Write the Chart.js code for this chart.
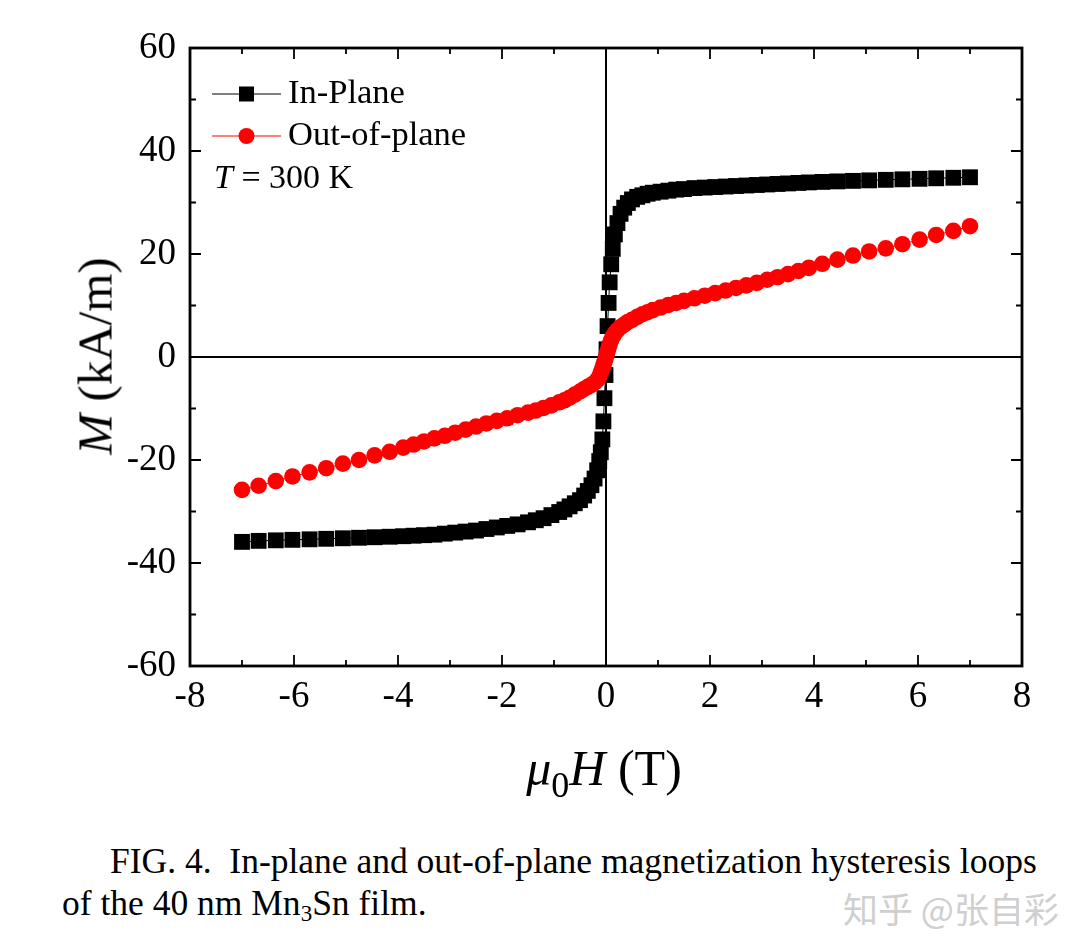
<!DOCTYPE html>
<html>
<head>
<meta charset="utf-8">
<script src="https://cdn.jsdelivr.net/npm/chart.js@4.4.0/dist/chart.umd.min.js"></script>
<style>
body { margin: 0; background: #fff; }
#wrap { position: relative; width: 1085px; height: 946px; font-family: 'Liberation Serif', 'Times New Roman', serif; color: #000; }
#chart { position: absolute; left: 0; top: 0; }
#ytitle { position: absolute; left: 95px; top: 356px; transform: translate(-50%, -50%) rotate(-90deg); font-size: 49px; white-space: nowrap; }
#xtitle { position: absolute; left: 604px; top: 772px; transform: translate(-50%, -50%); font-size: 50px; white-space: nowrap; }
#xtitle sub { font-size: 36px; vertical-align: -12px; }
.cap { position: absolute; font-size: 35.5px; white-space: nowrap; }
.cap sub { font-size: 23px; vertical-align: -6px; }
#mark { position: absolute; left: 843px; top: 882px; font-family: 'Noto Sans CJK SC', sans-serif; font-size: 35px; color: #cfcfcf; white-space: nowrap; }
</style>
</head>
<body>
<div id="wrap">
  <canvas id="chart" width="1085" height="800"></canvas>
  <div id="ytitle"><i>M</i> (kA/m)</div>
  <div id="xtitle"><i>μ</i><sub>0</sub><i>H</i> (T)</div>
  <div class="cap" style="left:110px; top:840px;">FIG. 4.&nbsp; In-plane and out-of-plane magnetization hysteresis loops</div>
  <div class="cap" style="left:62px; top:882px;">of the 40 nm Mn<sub>3</sub>Sn film.</div>
  <div id="mark">知乎 @张自彩</div>
</div>
<script>
// Field values (T), shared by both loops
const fieldT = [
    -7.0, -6.68, -6.35, -6.03, -5.70, -5.38, -5.06, -4.75, -4.45, -4.16,
    -3.9, -3.7, -3.5, -3.3, -3.1, -2.9, -2.7, -2.5, -2.3, -2.1,
    -1.9, -1.7, -1.5, -1.35, -1.2, -1.05, -0.9, -0.8, -0.7, -0.6,
    -0.5, -0.42, -0.35, -0.28, -0.22, -0.17, -0.13, -0.1, -0.07, -0.05,
    -0.03, -0.01, 0.01, 0.03, 0.05, 0.07, 0.1, 0.13, 0.17, 0.22,
    0.28, 0.35, 0.42, 0.5, 0.6, 0.7, 0.8, 0.9, 1.05, 1.2,
    1.35, 1.5, 1.7, 1.9, 2.1, 2.3, 2.5, 2.7, 2.9, 3.1,
    3.3, 3.5, 3.7, 3.9, 4.16, 4.45, 4.75, 5.06, 5.38, 5.70,
    6.03, 6.35, 6.68, 7.0
];

// In-plane magnetization (kA/m)
const inPlaneM = [
    -35.9, -35.7, -35.6, -35.5, -35.4, -35.3, -35.2, -35.1, -35.0, -34.9,
    -34.8, -34.7, -34.6, -34.5, -34.3, -34.1, -33.9, -33.7, -33.4, -33.1,
    -32.8, -32.5, -32.1, -31.7, -31.3, -30.7, -30.1, -29.6, -29.0, -28.4,
    -27.8, -26.9, -26.0, -24.9, -23.6, -22.0, -20.2, -18.5, -16.0, -12.5,
    -8.0, -3.5, 1.5, 6.0, 10.5, 14.5, 18.0, 21.0, 23.8, 26.0,
    27.8, 29.0, 29.9, 30.6, 31.1, 31.4, 31.7, 31.9, 32.1, 32.3,
    32.5, 32.6, 32.8, 32.9, 33.0, 33.1, 33.2, 33.3, 33.4, 33.5,
    33.6, 33.7, 33.8, 33.9, 34.0, 34.1, 34.2, 34.3, 34.4, 34.5,
    34.6, 34.7, 34.8, 34.9
];

// Out-of-plane magnetization (kA/m)
const outOfPlaneM = [
    -25.8, -25.0, -24.1, -23.2, -22.4, -21.6, -20.7, -20.0, -19.1, -18.4,
    -17.6, -17.0, -16.4, -15.8, -15.3, -14.7, -14.1, -13.5, -12.9, -12.4,
    -11.9, -11.3, -10.8, -10.4, -9.9, -9.4, -8.8, -8.4, -7.9, -7.3,
    -6.7, -6.2, -5.8, -5.4, -5.0, -4.5, -3.8, -3.0, -2.2, -1.6,
    -1.0, -0.3, 0.4, 1.1, 1.8, 2.5, 3.3, 4.0, 4.6, 5.2,
    5.8, 6.3, 6.8, 7.2, 7.8, 8.3, 8.7, 9.1, 9.6, 10.1,
    10.5, 10.9, 11.4, 11.9, 12.4, 12.9, 13.4, 13.9, 14.4, 15.0,
    15.5, 16.1, 16.7, 17.3, 18.1, 18.9, 19.7, 20.5, 21.1, 21.9,
    22.8, 23.7, 24.5, 25.4
];

// Axis ranges and tick steps
const xRange = [-8, 8];
const yRange = [-60, 60];
const xMajor = 2, xMinor = 1;
const yMajor = 20, yMinor = 10;

const serif = "'Liberation Serif', 'Times New Roman', serif";
Chart.defaults.font.family = serif;
Chart.defaults.color = '#000';

function toPoints(ys) {
    return fieldT.map((x, i) => ({ x: x, y: ys[i] }));
}

// Box around the plot with inward ticks on all four sides
const framePlugin = {
    id: 'frame',
    afterDatasetsDraw(chart) {
        const { ctx, chartArea: a, scales: { x, y } } = chart;
        ctx.save();
        ctx.strokeStyle = '#000';
        ctx.lineWidth = 1.8;
        ctx.beginPath();
        for (let v = xRange[0]; v <= xRange[1]; v += xMinor) {
            const px = x.getPixelForValue(v);
            const len = v % xMajor === 0 ? 11 : 6;
            ctx.moveTo(px, a.bottom); ctx.lineTo(px, a.bottom - len);
            ctx.moveTo(px, a.top); ctx.lineTo(px, a.top + len);
        }
        for (let v = yRange[0]; v <= yRange[1]; v += yMinor) {
            const py = y.getPixelForValue(v);
            const len = v % yMajor === 0 ? 11 : 6;
            ctx.moveTo(a.left, py); ctx.lineTo(a.left + len, py);
            ctx.moveTo(a.right, py); ctx.lineTo(a.right - len, py);
        }
        ctx.stroke();
        ctx.lineWidth = 2.8;
        ctx.strokeRect(a.left, a.top, a.right - a.left, a.bottom - a.top);
        ctx.restore();
    }
};

// Legend in the upper left corner of the plot
const legendPlugin = {
    id: 'cornerLegend',
    afterDraw(chart) {
        const { ctx, chartArea: a } = chart;
        const x0 = a.left + 22;
        ctx.save();
        ctx.font = '34.5px ' + serif;
        ctx.textBaseline = 'middle';
        chart.data.datasets.forEach((ds, i) => {
            const yy = a.top + 46 + i * 42;
            ctx.strokeStyle = ds.borderColor;
            ctx.lineWidth = 1;
            ctx.beginPath();
            ctx.moveTo(x0, yy); ctx.lineTo(x0 + 69, yy);
            ctx.stroke();
            ctx.fillStyle = ds.backgroundColor;
            if (ds.pointStyle === 'rect') {
                ctx.fillRect(x0 + 27, yy - 7.5, 15, 15);
            } else {
                ctx.beginPath();
                ctx.arc(x0 + 34.5, yy, 8, 0, Math.PI * 2);
                ctx.fill();
            }
            ctx.fillStyle = '#000';
            ctx.fillText(ds.label, x0 + 76, yy);
        });
        const ty = a.top + 131;
        ctx.font = 'italic 34px ' + serif;
        ctx.fillText('T', x0 + 2, ty);
        const w = ctx.measureText('T').width;
        ctx.font = '34px ' + serif;
        ctx.fillText(' = 300 K', x0 + 2 + w, ty);
        ctx.restore();
    }
};

const ctx = document.getElementById('chart').getContext('2d');
new Chart(ctx, {
    type: 'scatter',
    data: {
        datasets: [
            {
                label: 'In-Plane',
                data: toPoints(inPlaneM),
                showLine: true,
                borderColor: '#000',
                backgroundColor: '#000',
                borderWidth: 1,
                pointStyle: 'rect',
                pointRadius: 11.2,
                pointBorderWidth: 0,
                order: 1
            },
            {
                label: 'Out-of-plane',
                data: toPoints(outOfPlaneM),
                showLine: true,
                borderColor: '#ff0000',
                backgroundColor: '#ff0000',
                borderWidth: 1,
                pointStyle: 'circle',
                pointRadius: 8.3,
                pointBorderWidth: 0,
                order: 0
            }
        ]
    },
    options: {
        responsive: false,
        animation: false,
        layout: { padding: { left: 0, top: 48, right: 63, bottom: 0 } },
        plugins: {
            legend: { display: false },
            tooltip: { enabled: false }
        },
        scales: {
            x: {
                type: 'linear',
                min: xRange[0],
                max: xRange[1],
                afterFit: s => { s.height = 134; },
                ticks: { stepSize: xMajor, font: { size: 37 }, color: '#000', padding: 9 },
                grid: {
                    drawTicks: false,
                    lineWidth: 2,
                    color: c => (c.tick && c.tick.value === 0 ? '#000' : 'rgba(0,0,0,0)')
                },
                border: { display: false }
            },
            y: {
                type: 'linear',
                min: yRange[0],
                max: yRange[1],
                afterFit: s => { s.width = 190; },
                ticks: { stepSize: yMajor, font: { size: 37 }, color: '#000', padding: 14 },
                grid: {
                    drawTicks: false,
                    lineWidth: 2,
                    color: c => (c.tick && c.tick.value === 0 ? '#000' : 'rgba(0,0,0,0)')
                },
                border: { display: false }
            }
        }
    },
    plugins: [framePlugin, legendPlugin]
});
</script>
</body>
</html>
